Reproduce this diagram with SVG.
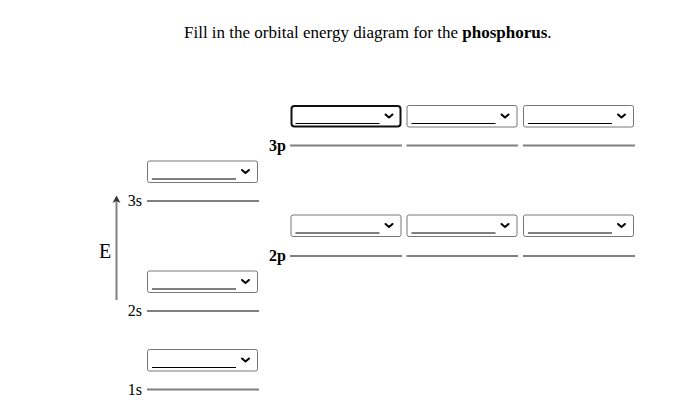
<svg xmlns="http://www.w3.org/2000/svg" width="674" height="413" viewBox="0 0 674 413">
<style>
  text { font-family: "Liberation Serif", "Times New Roman", serif; font-size: 16px; fill: #000; }
  .title { font-size: 17px; }
  .lbl { text-anchor: end; }
  .b { font-weight: bold; }
  .lvl { stroke: #808080; stroke-width: 2; fill: none; }
  .box { fill: #fff; stroke: #767676; stroke-width: 1; }
  .focus { fill: #fff; stroke: #101010; stroke-width: 2; }
  .ul { stroke: #000; stroke-width: 1; }
  .chev { fill: none; stroke: #000; stroke-width: 2; stroke-linecap: round; stroke-linejoin: round; }
</style>
<defs>
  <g id="dd">
    <rect class="box" x="0.5" y="0.5" width="110" height="21.5" rx="2"/>
    <line class="ul" x1="5" y1="18.5" x2="89" y2="18.5"/>
    <polyline class="chev" points="95,9.5 98.5,12.5 102,9.5"/>
  </g>
  <g id="ddf">
    <rect class="focus" x="1" y="1" width="109" height="20.5" rx="3"/>
    <line class="ul" x1="5" y1="18.5" x2="89" y2="18.5"/>
    <polyline class="chev" points="95,9.5 98.5,12.5 102,9.5"/>
  </g>
</defs>

<text class="title" x="184" y="38">Fill in the orbital energy diagram for the <tspan class="b">phosphorus</tspan>.</text>

<g id="connectors">
  <line x1="116.5" y1="300" x2="116.5" y2="201" stroke="#808080" stroke-width="2"/>
  <path d="M116.5,195.5 L120.5,203 L116.5,201 L112.5,203 Z" fill="#333"/>
  <text x="99" y="257.5" style="font-size:20px">E</text>
</g>

<g id="orbital-1s">
  <use href="#dd" x="147" y="349"/>
  <line class="lvl" x1="147" y1="389.5" x2="259" y2="389.5"/>
  <text class="lbl" x="142" y="394.5">1s</text>
</g>

<g id="orbital-2s">
  <use href="#dd" x="147" y="270.5"/>
  <line class="lvl" x1="147" y1="311" x2="259" y2="311"/>
  <text class="lbl" x="142" y="316">2s</text>
</g>

<g id="orbital-3s">
  <use href="#dd" x="147" y="160.5"/>
  <line class="lvl" x1="147" y1="201" x2="259" y2="201"/>
  <text class="lbl" x="142" y="206">3s</text>
</g>

<g id="orbital-2p">
  <use href="#dd" x="290.5" y="214.5"/>
  <use href="#dd" x="406.5" y="214.5"/>
  <use href="#dd" x="523" y="214.5"/>
  <line class="lvl" x1="290" y1="256" x2="402" y2="256"/>
  <line class="lvl" x1="406.5" y1="256" x2="518" y2="256"/>
  <line class="lvl" x1="523" y1="256" x2="635" y2="256"/>
  <text class="lbl b" x="286" y="261">2p</text>
</g>

<g id="orbital-3p">
  <use href="#ddf" x="290.5" y="105"/>
  <use href="#dd" x="406.5" y="105"/>
  <use href="#dd" x="523" y="105"/>
  <line class="lvl" x1="290" y1="145.5" x2="402" y2="145.5"/>
  <line class="lvl" x1="406.5" y1="145.5" x2="518" y2="145.5"/>
  <line class="lvl" x1="523" y1="145.5" x2="635" y2="145.5"/>
  <text class="lbl b" x="286" y="150.5">3p</text>
</g>
</svg>
